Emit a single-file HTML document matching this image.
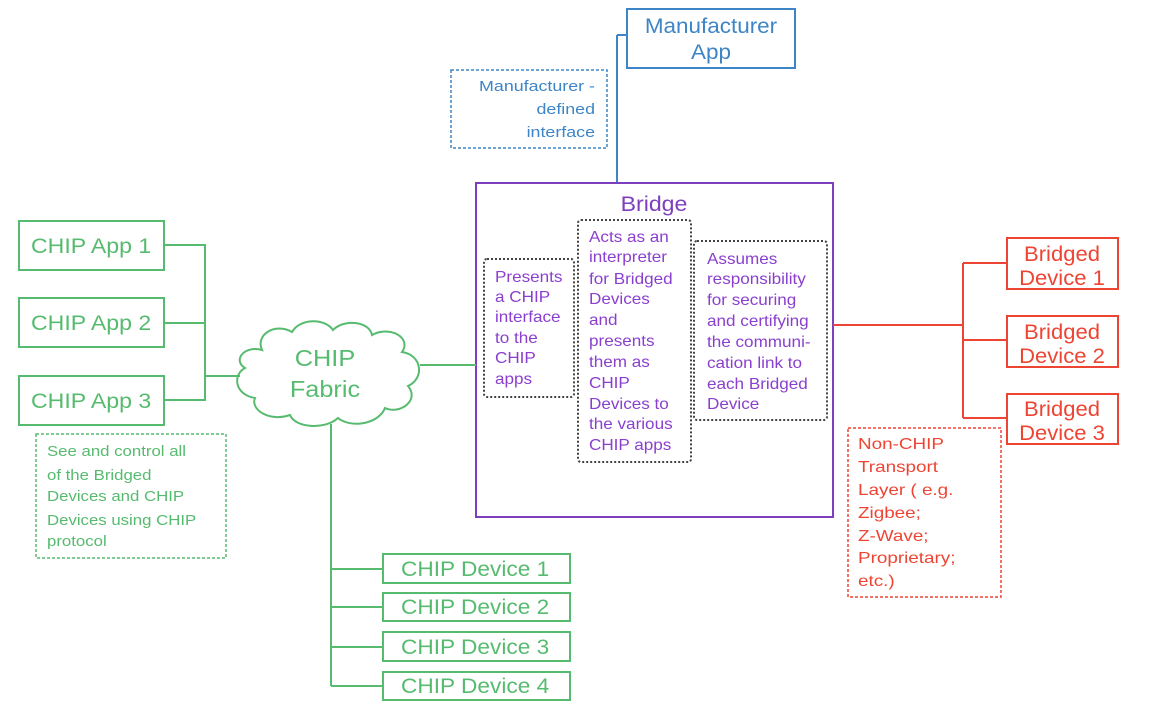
<!DOCTYPE html>
<html><head><meta charset="utf-8"><style>
html,body{margin:0;padding:0;background:#fff;}
svg{display:block;font-family:"Liberation Sans",Arial,sans-serif;}
</style></head><body>
<svg width="1160" height="710" viewBox="0 0 1160 710" xmlns="http://www.w3.org/2000/svg">
<!-- Manufacturer -->
<g stroke="#3d85c6" stroke-width="2" fill="none">
<rect x="627" y="9" width="168" height="59"/>
<path d="M617 35 V184 M617 35 H627"/>
<rect x="451" y="70" width="156" height="78" stroke-width="1.5" stroke-dasharray="3,2"/>
</g>
<g fill="#3d85c6" text-anchor="middle" font-size="21" transform="translate(711,0) scale(1.07,1) translate(-711,0)">
<text x="711" y="33">Manufacturer</text><text x="711" y="59">App</text>
</g>
<g fill="#3d85c6" text-anchor="end" font-size="15" transform="translate(595,0) scale(1.19,1) translate(-595,0)">
<text x="595" y="91">Manufacturer -</text><text x="595" y="114">defined</text><text x="595" y="137">interface</text>
</g>
<!-- Bridge -->
<rect x="476" y="183" width="357" height="334" stroke="#7e3fbf" stroke-width="2" fill="none"/>
<text x="654" y="211" text-anchor="middle" font-size="21" fill="#7e3fbf" transform="translate(654,0) scale(1.1,1) translate(-654,0)">Bridge</text>
<g stroke="#444" stroke-width="2" stroke-dasharray="2,2" fill="none">
<rect x="484" y="259" width="90" height="138" rx="3"/>
<rect x="578" y="220" width="113" height="242" rx="3"/>
<rect x="694" y="241" width="133" height="179" rx="3"/>
</g>
<g fill="#8a3fcf" font-size="16">
<g transform="translate(495,0) scale(1.07,1) translate(-495,0)">
<text x="495" y="282">Presents</text><text x="495" y="302">a CHIP</text><text x="495" y="322">interface</text><text x="495" y="343">to the</text><text x="495" y="363">CHIP</text><text x="495" y="384">apps</text>
</g>
<g transform="translate(589,0) scale(1.07,1) translate(-589,0)">
<text x="589" y="242">Acts as an</text><text x="589" y="262">interpreter</text><text x="589" y="284">for Bridged</text><text x="589" y="304">Devices</text><text x="589" y="325">and</text><text x="589" y="346">presents</text><text x="589" y="367">them as</text><text x="589" y="388">CHIP</text><text x="589" y="409">Devices to</text><text x="589" y="429">the various</text><text x="589" y="450">CHIP apps</text>
</g>
<g transform="translate(707,0) scale(1.07,1) translate(-707,0)">
<text x="707" y="264">Assumes</text><text x="707" y="284">responsibility</text><text x="707" y="305">for securing</text><text x="707" y="326">and certifying</text><text x="707" y="347">the communi-</text><text x="707" y="368">cation link to</text><text x="707" y="389">each Bridged</text><text x="707" y="409">Device</text>
</g>
</g>
<!-- Green -->
<g stroke="#57bb6f" stroke-width="2" fill="none">
<rect x="19" y="221" width="145" height="49"/>
<rect x="19" y="298" width="145" height="49"/>
<rect x="19" y="376" width="145" height="49"/>
<path d="M164 245 H205 V400 H164 M164 323 H205 M205 376 H240"/>
<path d="M420 365 H476"/>
<path d="M331 424 V686 M331 569 H383 M331 607 H383 M331 647 H383 M331 686 H383"/>
<rect x="383" y="554" width="187" height="29"/>
<rect x="383" y="593" width="187" height="28"/>
<rect x="383" y="632" width="187" height="29"/>
<rect x="383" y="672" width="187" height="28"/>
<path d="M262 350 C255 335 275 322 292 332 C300 318 325 318 333 330 C345 318 370 322 372 335 C390 325 412 338 402 352 C422 355 425 378 408 386 C420 400 400 415 385 408 C378 425 350 428 338 418 C325 430 295 428 290 415 C270 422 250 410 255 398 C235 395 232 375 245 368 C232 360 245 345 262 350 Z"/>
<rect x="36" y="434" width="190" height="124" stroke-width="1.5" stroke-dasharray="3,2"/>
</g>
<g fill="#57bb6f" font-size="21" transform="translate(31,0) scale(1.1,1) translate(-31,0)">
<text x="31" y="253">CHIP App 1</text><text x="31" y="330">CHIP App 2</text><text x="31" y="408">CHIP App 3</text>
</g>
<g fill="#57bb6f" font-size="21" transform="translate(401,0) scale(1.08,1) translate(-401,0)">
<text x="401" y="576">CHIP Device 1</text><text x="401" y="614">CHIP Device 2</text><text x="401" y="654">CHIP Device 3</text><text x="401" y="693">CHIP Device 4</text>
</g>
<g fill="#57bb6f" font-size="23" text-anchor="middle" transform="translate(325,0) scale(1.1,1) translate(-325,0)">
<text x="325" y="366">CHIP</text><text x="325" y="397">Fabric</text>
</g>
<g fill="#57bb6f" font-size="15" transform="translate(47,0) scale(1.12,1) translate(-47,0)">
<text x="47" y="456">See and control  all</text><text x="47" y="480">of the Bridged</text><text x="47" y="501">Devices and CHIP</text><text x="47" y="525">Devices using CHIP</text><text x="47" y="546">protocol</text>
</g>
<!-- Red -->
<g stroke="#ee4433" stroke-width="2" fill="none">
<path d="M833 325 H963 M963 263 V418 M963 263 H1007 M963 340 H1007 M963 418 H1007"/>
<rect x="1007" y="238" width="111" height="51"/>
<rect x="1007" y="316" width="111" height="51"/>
<rect x="1007" y="394" width="111" height="50"/>
<rect x="848" y="428" width="153" height="169" stroke-width="1.5" stroke-dasharray="3,2"/>
</g>
<g fill="#ee4433" font-size="21" text-anchor="middle" transform="translate(1062,0) scale(1.05,1) translate(-1062,0)">
<text x="1062" y="261">Bridged</text><text x="1062" y="285">Device 1</text>
<text x="1062" y="339">Bridged</text><text x="1062" y="363">Device 2</text>
<text x="1062" y="416">Bridged</text><text x="1062" y="440">Device 3</text>
</g>
<g fill="#ee4433" font-size="16" transform="translate(858,0) scale(1.18,1) translate(-858,0)">
<text x="858" y="449">Non-CHIP</text><text x="858" y="472">Transport</text><text x="858" y="495">Layer ( e.g.</text><text x="858" y="518">Zigbee;</text><text x="858" y="541">Z-Wave;</text><text x="858" y="563">Proprietary;</text><text x="858" y="586">etc.)</text>
</g>
</svg>
</body></html>
